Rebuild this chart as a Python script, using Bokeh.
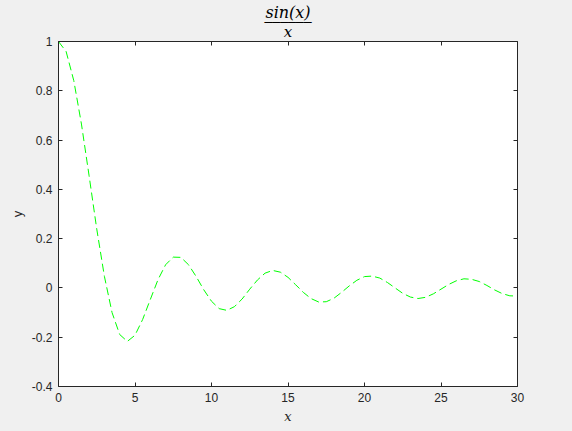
from bokeh.plotting import figure
from bokeh.models import LinearAxis, FixedTicker, Title
from bokeh.embed import file_html
from bokeh.resources import INLINE

# ---- data ----
x_vals = [0.0, 0.5, 1.0, 1.5, 2.0, 2.5, 3.0, 3.5, 4.0, 4.5, 5.0, 5.5, 6.0, 6.5, 7.0, 7.5,
          8.0, 8.5, 9.0, 9.5, 10.0, 10.5, 11.0, 11.5, 12.0, 12.5, 13.0, 13.5, 14.0, 14.5,
          15.0, 15.5, 16.0, 16.5, 17.0, 17.5, 18.0, 18.5, 19.0, 19.5, 20.0, 20.5, 21.0,
          21.5, 22.0, 22.5, 23.0, 23.5, 24.0, 24.5, 25.0, 25.5, 26.0, 26.5, 27.0, 27.5,
          28.0, 28.5, 29.0, 29.5, 30.0]
y_vals = [1.000, 0.959, 0.841, 0.665, 0.455, 0.239, 0.047, -0.100, -0.189, -0.217,
          -0.192, -0.128, -0.047, 0.033, 0.094, 0.125, 0.124, 0.094, 0.046, -0.008,
          -0.054, -0.084, -0.091, -0.076, -0.045, -0.005, 0.032, 0.060, 0.071, 0.064,
          0.043, 0.013, -0.018, -0.043, -0.057, -0.056, -0.042, -0.018, 0.008, 0.031,
          0.046, 0.048, 0.040, 0.022, -0.000, -0.022, -0.037, -0.043, -0.038, -0.024,
          -0.005, 0.014, 0.029, 0.037, 0.035, 0.026, 0.010, -0.008, -0.023, -0.032,
          -0.033]

x_ticks = [0, 5, 10, 15, 20, 25, 30]
x_tick_labels = ["0", "5", "10", "15", "20", "25", "30"]
y_ticks = [-0.4, -0.2, 0, 0.2, 0.4, 0.6, 0.8, 1]
y_tick_labels = ["-0.4", "-0.2", "0", "0.2", "0.4", "0.6", "0.8", "1"]

title_num = "sin(x)"
title_den = "x"
x_label = "x"
y_label = "y"

AX = "#262626"
BG = "#f0f0f0"

p = figure(width=572, height=431, x_range=(0, 30), y_range=(-0.4, 1),
           output_backend="svg", toolbar_location=None,
           x_axis_location=None, y_axis_location=None,
           background_fill_color="white", border_fill_color=BG,
           min_border_left=58, min_border_right=55, min_border_top=41, min_border_bottom=45)
p.outline_line_color = None
p.grid.visible = False
p.title.visible = False


def style(ax, ticks, labels, show):
    ax.ticker = FixedTicker(ticks=ticks)
    ax.major_label_overrides = {t: (l if show else "") for t, l in zip(ticks, labels)}
    ax.major_tick_in = 4
    ax.major_tick_out = 0
    ax.minor_tick_line_color = None
    ax.axis_line_color = AX
    ax.major_tick_line_color = AX
    ax.major_label_text_font = "Liberation Sans"
    ax.major_label_text_font_size = "12px" if show else "0px"
    ax.major_label_text_color = AX
    ax.major_label_standoff = 6 if show else 0


xb = LinearAxis()
style(xb, x_ticks, x_tick_labels, True)
xb.axis_label = x_label
xb.axis_label_text_font = "DejaVu Serif"
xb.axis_label_text_font_style = "italic"
xb.axis_label_text_font_size = "13px"
xb.axis_label_text_color = AX
xb.axis_label_standoff = 4
p.add_layout(xb, "below")

yl = LinearAxis()
style(yl, y_ticks, y_tick_labels, True)
yl.axis_label = y_label
yl.axis_label_text_font = "Liberation Sans"
yl.axis_label_text_font_style = "normal"
yl.axis_label_text_font_size = "13px"
yl.axis_label_text_color = AX
yl.axis_label_standoff = 4
p.add_layout(yl, "left")

xt = LinearAxis()
style(xt, x_ticks, x_tick_labels, False)
p.add_layout(xt, "above")

yr = LinearAxis()
style(yr, y_ticks, y_tick_labels, False)
p.add_layout(yr, "right")

p.line(x_vals, y_vals, line_color="#00ff00", line_width=1, line_dash="8 4")

# title drawn as a fraction: denominator (closest), bar, numerator (outermost)
p.add_layout(Title(text=title_den, align="center", vertical_align="middle",
                   text_font="DejaVu Serif", text_font_style="italic",
                   text_font_size="15px", text_color="black", standoff=-1), "above")
p.add_layout(Title(text="\u2500" * 6, align="center", vertical_align="middle",
                   text_font="DejaVu Sans Mono", text_font_style="normal",
                   text_font_size="13px", text_color="black", standoff=-17), "above")
p.add_layout(Title(text=title_num, align="center", vertical_align="middle",
                   text_font="DejaVu Serif", text_font_style="italic",
                   text_font_size="16px", text_color="black", standoff=0), "above")

html = file_html(p, INLINE)
html = html.replace("</head>", "<style>html,body{background:#f0f0f0;}</style></head>", 1)
open("out.html", "w").write(html)
